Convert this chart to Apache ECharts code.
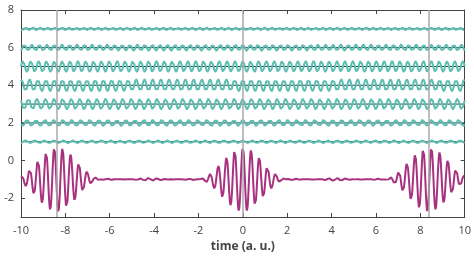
<!DOCTYPE html>
<html lang="en">
<head>
<meta charset="UTF-8" />
<title>Mode locking</title>
<script src="https://cdn.jsdelivr.net/npm/echarts@6.0.0/dist/echarts.min.js"></script>
<style>
  html, body { margin: 0; padding: 0; background: #fff; }
  #chart { width: 474px; height: 258px; }
</style>
</head>
<body>
<div id="chart"></div>
<script>
// longitudinal modes, bottom row first
const modeIndex = [-3, -2, -1, 0, 1, 2, 3];
const modeOffset = [1, 2, 3, 4, 5, 6, 7];
const modeAmplitude = [0.07, 0.17, 0.29, 0.32, 0.29, 0.17, 0.07];
const carrierFreq = 17.0;   // rad per time unit
const modeSpacing = 0.75;   // rad per time unit -> period ~8.38
const pulseOffset = -1;
const pulsePeak = 1.7;
const pulseTimes = [-8.38, 0, 8.38];
const yTicks = [-2, 0, 2, 4, 6, 8];
const timeStep = 0.01;

const times = [];
for (let t = -10; t <= 10.0001; t += timeStep) times.push(+t.toFixed(3));

const modeData = modeIndex.map((n, i) =>
  times.map(t => [t, modeOffset[i] + modeAmplitude[i] *
    Math.cos((carrierFreq + n * modeSpacing) * t)])
);
const ampSum = modeAmplitude.reduce((a, b) => a + b, 0);
const pulseData = times.map((t, k) => {
  let s = 0;
  modeIndex.forEach((n, i) => { s += modeData[i][k][1] - modeOffset[i]; });
  return [t, pulseOffset + s * pulsePeak / ampSum];
});

const frame = { show: true, onZero: false, lineStyle: { color: '#444', width: 1 } };
const labelFont = { color: '#444', fontSize: 11, fontFamily: 'Open Sans' };
const tick = { inside: true, length: 4, lineStyle: { color: '#444' } };

const series = [];
series.push({
  type: 'line', data: [], silent: true, z: 1,
  markLine: {
    symbol: 'none', silent: true, label: { show: false },
    lineStyle: { color: '#aaa', width: 1.5, type: 'solid' },
    data: pulseTimes.map(x => ({ xAxis: x }))
  }
});
modeOffset.forEach(off => {
  series.push({
    type: 'line', data: [[-10, off], [10, off]], symbol: 'none',
    lineStyle: { color: '#1f3f3f', width: 1 }, z: 2, silent: true
  });
});
modeData.forEach(d => {
  series.push({
    type: 'line', data: d, symbol: 'none', sampling: false,
    lineStyle: { color: '#5cbdb2', width: 2 }, z: 3, silent: true
  });
});
series.push({
  type: 'line', data: pulseData, symbol: 'none',
  lineStyle: { color: '#a8327f', width: 2 }, z: 4, silent: true
});

const chart = echarts.init(document.getElementById('chart'));
chart.setOption({
  animation: false,
  backgroundColor: '#fff',
  grid: { left: 21, right: 8, top: 10, bottom: 36 },
  xAxis: [{
    type: 'value', min: -10, max: 10, interval: 2, position: 'bottom',
    axisLine: frame, axisTick: tick,
    splitLine: { show: false },
    axisLabel: Object.assign({ margin: 8 }, labelFont),
    name: 'time (a. u.)', nameLocation: 'middle', nameGap: 24,
    nameTextStyle: { color: '#444', fontSize: 12, fontWeight: 'bold', fontFamily: 'Open Sans' }
  }, {
    type: 'value', min: -10, max: 10, interval: 2, position: 'top',
    axisLine: frame, axisTick: tick,
    splitLine: { show: false }, axisLabel: { show: false }
  }],
  yAxis: [{
    type: 'value', min: -3, max: 8, position: 'left',
    axisLine: frame,
    axisTick: Object.assign({ customValues: yTicks }, tick),
    splitLine: { show: false },
    axisLabel: Object.assign({ margin: 7, customValues: yTicks }, labelFont)
  }, {
    type: 'value', min: -3, max: 8, position: 'right',
    axisLine: frame,
    axisTick: Object.assign({ customValues: yTicks }, tick),
    splitLine: { show: false }, axisLabel: { show: false }
  }],
  series: series
});
</script>
</body>
</html>
